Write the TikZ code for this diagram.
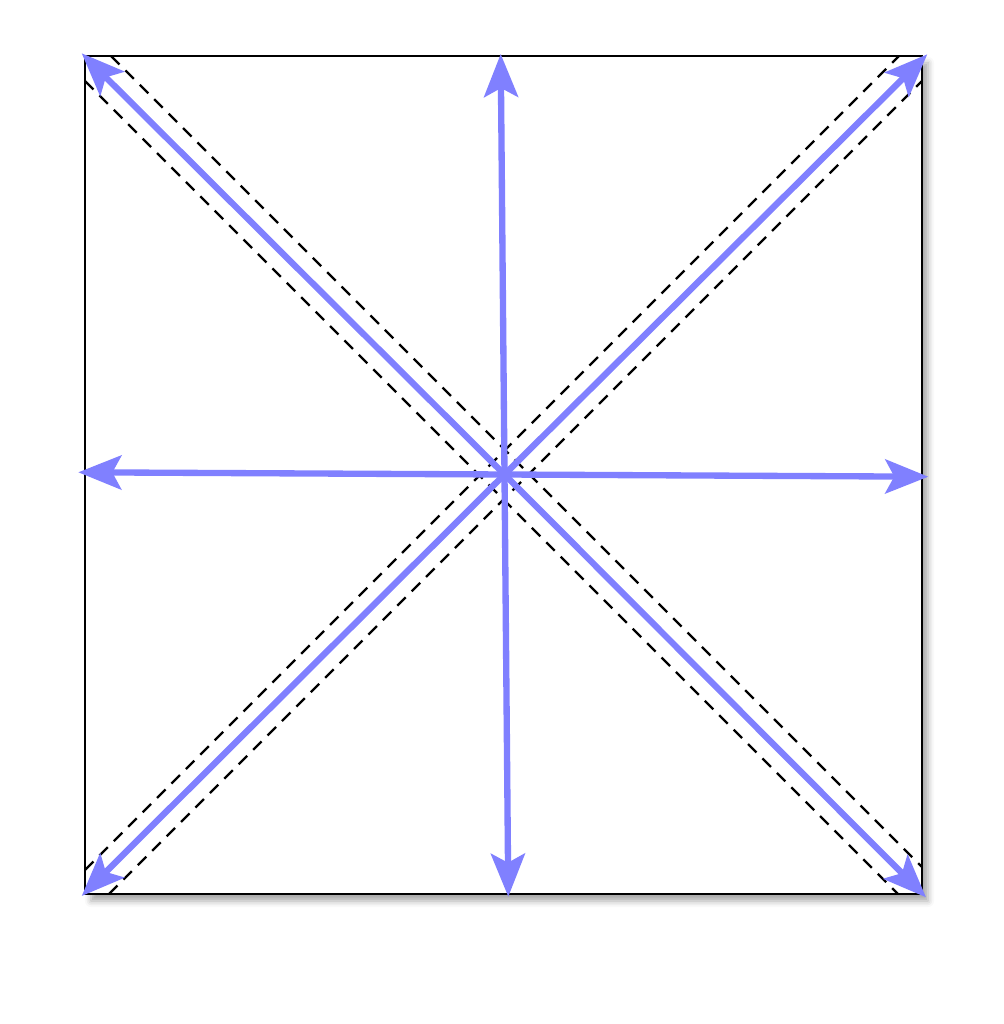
\documentclass[tikz,border=0pt]{standalone}
\usetikzlibrary{arrows.meta,shadows.blur}

\begin{document}
\begin{tikzpicture}[>={Stealth[length=4.3mm, width=3.4mm, inset=0.9mm]}, semithick,
    arrow/.style={->, blue!50, line width=1.8pt},
    guide/.style={line width=.7pt, dash pattern=on 3.4pt off 2.4pt}]
  \useasboundingbox (0,0) rectangle (10.04,10.24);
  % the square
  \draw[line width=.7pt, fill=white,
    blur shadow={shadow xshift=.6mm, shadow yshift=-.7mm, shadow opacity=35}]
    (0.85,1.30) rectangle (9.22,9.68);
  % dashed guides
  \draw[guide] (1.11,9.68) -- (9.22,1.57);
  \draw[guide] (0.85,9.43) -- (8.98,1.30);
  \draw[guide] (0.85,1.54) -- (8.99,9.68);
  \draw[guide] (1.09,1.30) -- (9.22,9.43);
  % arrows from the centre
  \coordinate (C) at (5.045,5.495);
  \foreach \name/\x/\y in {n/5.007/9.70, s/5.083/1.273, w/0.783/5.517, e/9.283/5.473,
      nw/0.817/9.707, ne/9.273/9.697, se/9.26/1.267, sw/0.817/1.28} {
    \coordinate (\name) at (\x,\y);
    \draw[arrow] (C) -- (\name);
  }
\end{tikzpicture}
\end{document}
